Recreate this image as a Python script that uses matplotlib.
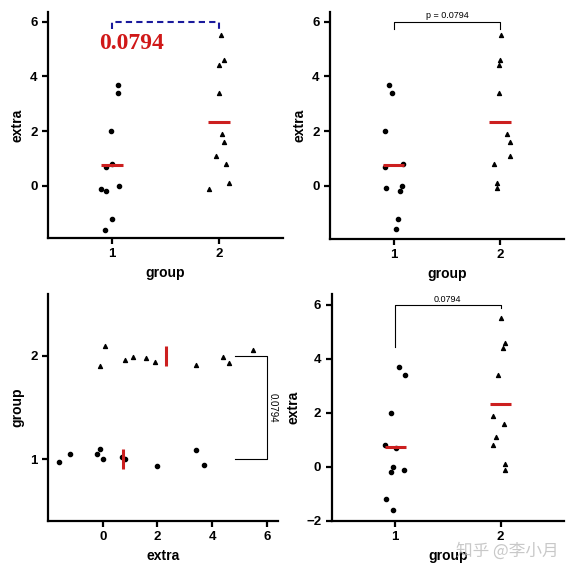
import numpy as np
import matplotlib
matplotlib.use("Agg")
import matplotlib.pyplot as plt

plt.rcParams['font.family'] = ['Liberation Sans', 'DejaVu Sans']

# sleep data: extra hours per group
extra_g1 = [0.7, -1.6, -0.2, -1.2, -0.1, 3.4, 3.7, 0.8, 0.0, 2.0]
extra_g2 = [1.9, 0.8, 1.1, 0.1, -0.1, 4.4, 5.5, 1.6, 4.6, 3.4]
p_text = "0.0794"

# jittered group positions
jit1_g1 = [0.94, 0.93, 0.94, 1.00, 0.90, 1.06, 1.054, 1.00, 1.063, 0.99]
jit1_g2 = [2.03, 2.07, 1.97, 2.09, 1.91, 2.00, 2.02, 2.05, 2.05, 2.00]
jit2_g1 = [0.92, 1.016, 1.056, 1.04, 0.925, 0.98, 0.953, 1.09, 1.075, 0.915]
jit2_g2 = [2.066, 1.94, 2.09, 1.97, 1.97, 1.99, 2.007, 2.09, 2.00, 1.99]
jit3_g1 = [1.016, 0.968, 1.054, 1.045, 1.10, 1.09, 0.946, 0.997, 1.00, 0.936]
jit3_g2 = [1.94, 1.958, 1.987, 2.10, 1.907, 1.987, 2.058, 1.98, 1.935, 1.91]
jit4_g1 = [1.01, 0.98, 0.962, 0.91, 1.082, 1.095, 1.035, 0.90, 0.98, 0.962]
jit4_g2 = [1.93, 1.925, 1.96, 2.04, 2.044, 2.02, 2.003, 2.035, 2.044, 1.98]

mean_g1 = np.mean(extra_g1)
mean_g2 = np.mean(extra_g2)
RED = '#cc1f1f'


def style(ax):
    for s in ['top', 'right']:
        ax.spines[s].set_visible(False)
    for s in ['left', 'bottom']:
        ax.spines[s].set_linewidth(1.6)
    ax.tick_params(direction='out', length=4, width=1.6, labelsize=9.5)
    for lab in ax.get_xticklabels() + ax.get_yticklabels():
        lab.set_fontweight('bold')


def vertical_panel(ax, j1, j2, ylim, yticks):
    ax.scatter(j1, extra_g1, s=9, marker='o', color='black', zorder=3)
    ax.scatter(j2, extra_g2, s=8, marker='^', color='black', zorder=3)
    ax.hlines([mean_g1, mean_g2], [0.9, 1.9], [1.1, 2.1], color=RED, lw=2.2, zorder=4)
    ax.set_xlim(0.4, 2.6)
    ax.set_ylim(*ylim)
    ax.set_xticks([1, 2])
    ax.set_yticks(yticks)
    ax.set_xlabel('group', fontsize=10, fontweight='bold')
    ax.set_ylabel('extra', fontsize=10, fontweight='bold')
    style(ax)


fig = plt.figure(figsize=(5.76, 5.76), dpi=100)

# top-left
ax1 = fig.add_axes([0.0833, 0.587, 0.408, 0.392])
vertical_panel(ax1, jit1_g1, jit1_g2, (-1.9, 6.35), [0, 2, 4, 6])
ax1.plot([1, 1, 2, 2], [5.75, 6, 6, 5.75], color='#1a1a9c', lw=1.5, ls=(0, (3, 2)))
ax1.text(0.88, 5.22, p_text, color='#d01818', fontsize=17, fontweight='bold',
         family='Liberation Serif', ha='left', va='center')

# top-right
ax2 = fig.add_axes([0.573, 0.585, 0.406, 0.394])
vertical_panel(ax2, jit2_g1, jit2_g2, (-1.95, 6.35), [0, 2, 4, 6])
ax2.plot([1, 1, 2, 2], [5.75, 6, 6, 5.75], color='black', lw=0.8)
ax2.text(1.5, 6.05, 'p = ' + p_text, fontsize=6.5, ha='center', va='bottom')

# bottom-left (horizontal)
ax3 = fig.add_axes([0.0833, 0.0955, 0.399, 0.394])
ax3.scatter(extra_g1, jit3_g1, s=9, marker='o', color='black', zorder=3)
ax3.scatter(extra_g2, jit3_g2, s=8, marker='^', color='black', zorder=3)
ax3.vlines([mean_g1, mean_g2], [0.9, 1.9], [1.1, 2.1], color=RED, lw=2.2, zorder=4)
ax3.plot([4.85, 6.0, 6.0, 4.85], [1, 1, 2, 2], color='black', lw=0.8)
ax3.text(6.2, 1.5, p_text, fontsize=7, rotation=-90, ha='center', va='center')
ax3.set_xlim(-2, 6.4)
ax3.set_ylim(0.4, 2.6)
ax3.set_xticks([0, 2, 4, 6])
ax3.set_yticks([1, 2])
ax3.set_xlabel('extra', fontsize=10, fontweight='bold')
ax3.set_ylabel('group', fontsize=10, fontweight='bold')
style(ax3)

# bottom-right
ax4 = fig.add_axes([0.576, 0.0955, 0.403, 0.394])
vertical_panel(ax4, jit4_g1, jit4_g2, (-2, 6.4), [-2, 0, 2, 4, 6])
ax4.plot([1, 1, 2, 2], [4.45, 6, 6, 5.9], color='black', lw=0.8)
ax4.text(1.5, 6.05, p_text, fontsize=6.5, ha='center', va='bottom')

fig.text(0.88, 0.043, '知乎 @李小月', fontsize=12, color='#bbbbbb', alpha=0.8,
         ha='center', va='center', family=['Noto Sans CJK SC', 'DejaVu Sans'])

fig.savefig('out.png', dpi=100)
